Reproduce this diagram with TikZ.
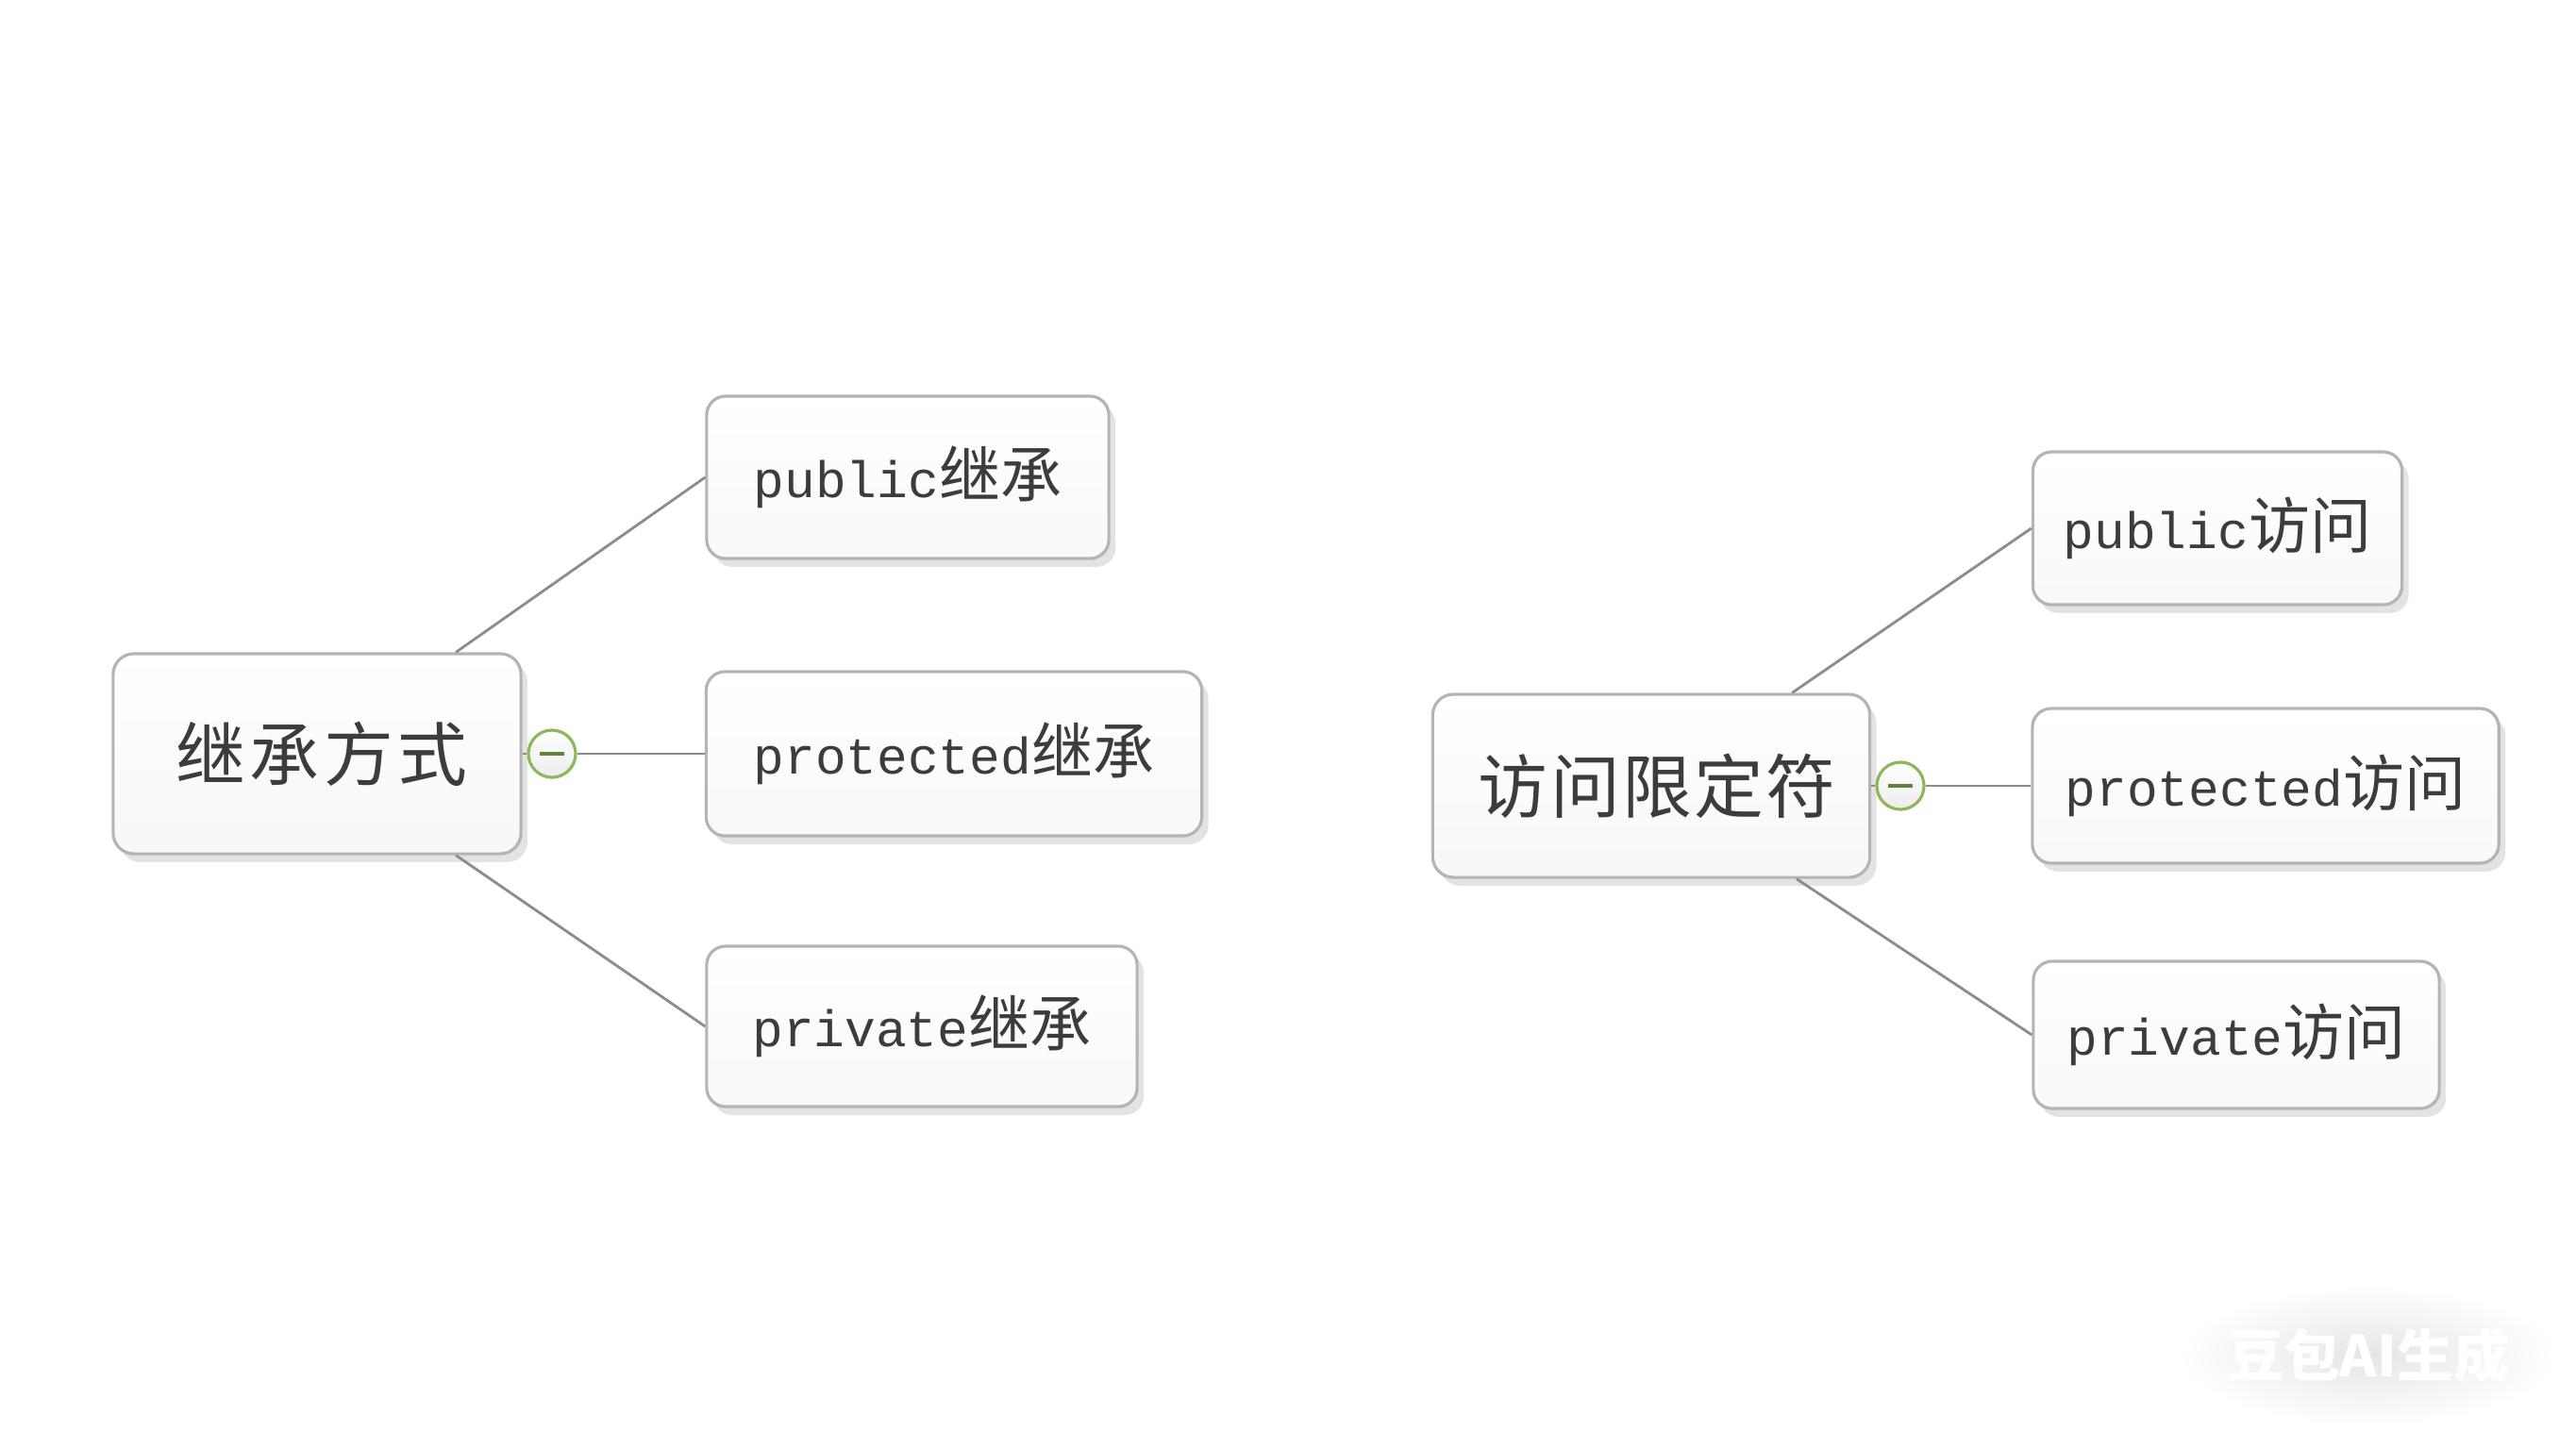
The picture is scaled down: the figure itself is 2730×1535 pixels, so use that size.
\documentclass[tikz,border=0pt]{standalone}
\usepackage{fontspec}
\usetikzlibrary{shadows,calc}
\newfontfamily\cjk{Noto Sans CJK SC}
\newfontfamily\monof{Liberation Mono}
\definecolor{boxline}{HTML}{B4B4B4}
\definecolor{txt}{HTML}{3C3C3C}
\definecolor{conn}{HTML}{8C8C8C}
\definecolor{knob}{HTML}{8DB85A}
\begin{document}
\begin{tikzpicture}[x=0.01cm,y=-0.01cm,
  mainbox/.style={draw=boxline, line width=0.9pt, rounded corners=0.22cm, top color=white, bottom color=white!94!gray,
     drop shadow={shadow xshift=2pt, shadow yshift=-2.5pt, opacity=0.22, fill=gray},
     text=txt, inner sep=0pt, font=\cjk\fontsize{21}{24}\selectfont},
  childbox/.style={draw=boxline, line width=0.9pt, rounded corners=0.2cm, top color=white, bottom color=white!95!gray,
     drop shadow={shadow xshift=2pt, shadow yshift=-2.5pt, opacity=0.22, fill=gray},
     text=txt, inner sep=0pt},
  knobc/.style={circle, draw=knob, line width=0.9pt, minimum size=0.5cm, inner sep=0pt,
     top color=white, bottom color=gray!15},
  connector/.style={draw=conn, line width=0.8pt}
]
\fill[white] (0,0) rectangle (2730,1535);
\useasboundingbox (0,0) rectangle (2730,1535);

% left group
\node[mainbox, minimum width=4.32cm, minimum height=2.12cm] (jc) at (336,799)
  {\hspace*{0.1cm}\addfontfeature{LetterSpace=6}继承方式};
\node[childbox, minimum width=4.26cm, minimum height=1.72cm] (jpub) at (962,506)
  {\monof\fontsize{15.5}{18}\selectfont public\cjk\fontsize{18.5}{20}\selectfont 继承};
\node[childbox, minimum width=5.25cm, minimum height=1.74cm] (jpro) at (1011,799)
  {\monof\fontsize{15.5}{18}\selectfont protected\cjk\fontsize{18.5}{20}\selectfont 继承};
\node[childbox, minimum width=4.56cm, minimum height=1.70cm] (jpri) at (977,1088)
  {\monof\fontsize{15.5}{18}\selectfont private\cjk\fontsize{18.5}{20}\selectfont 继承};
\node[knobc] (jk) at (585,799) {};
\draw[knob!70!black, line width=1pt] ($(jk.center)+(-13,0)$) -- ($(jk.center)+(13,0)$);

\coordinate (jtop) at ($(jc.north west)!0.838!(jc.north east)$);
\coordinate (jbot) at ($(jc.south west)!0.838!(jc.south east)$);
\draw[connector] (jtop) -- (jpub.west);
\draw[connector] (jbot) -- (jpri.west);
\draw[connector] (jc.east) -- (jk.west);
\draw[connector] (jk.east) -- (jpro.west);

% right group
\node[mainbox, minimum width=4.63cm, minimum height=1.94cm] (fw) at (1750,833)
  {\hspace*{0.12cm}\addfontfeature{LetterSpace=3}访问限定符};
\node[childbox, minimum width=3.91cm, minimum height=1.62cm] (fpub) at (2350,560)
  {\monof\fontsize{15.5}{18}\selectfont public\cjk\fontsize{18.5}{20}\selectfont 访问};
\node[childbox, minimum width=4.94cm, minimum height=1.64cm] (fpro) at (2401,833)
  {\monof\fontsize{15.5}{18}\selectfont protected\cjk\fontsize{18.5}{20}\selectfont 访问};
\node[childbox, minimum width=4.30cm, minimum height=1.56cm] (fpri) at (2370,1097)
  {\monof\fontsize{15.5}{18}\selectfont private\cjk\fontsize{18.5}{20}\selectfont 访问};
\node[knobc] (fk) at (2014,833) {};
\draw[knob!70!black, line width=1pt] ($(fk.center)+(-13,0)$) -- ($(fk.center)+(13,0)$);

\coordinate (ftop) at ($(fw.north west)!0.82!(fw.north east)$);
\coordinate (fbot) at ($(fw.south west)!0.83!(fw.south east)$);
\draw[connector] (ftop) -- (fpub.west);
\draw[connector] (fbot) -- (fpri.west);
\draw[connector] (fw.east) -- (fk.west);
\draw[connector] (fk.east) -- (fpro.west);

% watermark
\shade[inner color=gray!20, outer color=white] (2510,1437) ellipse [x radius=200, y radius=75];
\node[text=white, font=\cjk\bfseries\fontsize{17}{18}\selectfont, inner sep=0pt] (wm) at (2510,1437) {豆包AI生成};
\end{tikzpicture}
\end{document}
